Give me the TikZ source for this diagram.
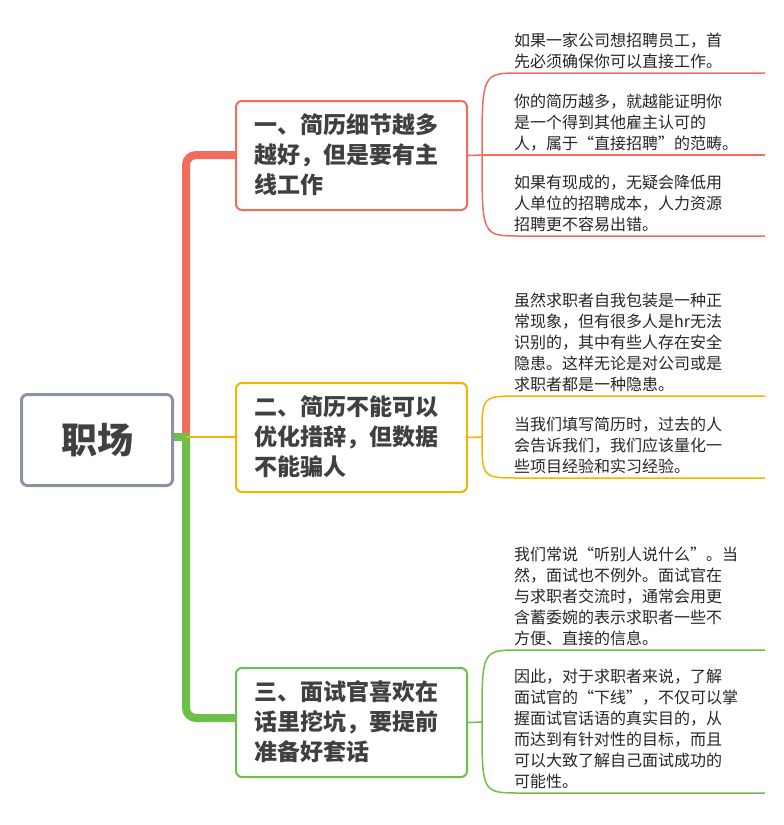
\documentclass[tikz,border=0pt]{standalone}
\usepackage{fontspec}
\setmainfont{Noto Sans CJK SC}
\begin{document}
\begin{tikzpicture}[x=1pt,y=-1pt,
  box/.style={draw=#1,line width=2pt,rounded corners=6pt,minimum width=231pt,minimum height=109pt,anchor=north west,inner sep=0},
  btxt/.style={anchor=west,align=left,font=\fontsize{23}{30}\selectfont\bfseries,text=black!75},
  leaf/.style={anchor=south west,align=left,inner sep=0,font=\fontsize{16}{21}\selectfont,text=black!85},
  ln/.style={draw=#1,line width=1.5pt}]
\definecolor{cr}{HTML}{F26B5B}\definecolor{co}{HTML}{F5B400}\definecolor{cg}{HTML}{6CC04A}\definecolor{cgr}{HTML}{8A93A3}
\useasboundingbox (0,0) rectangle (784,825);
% trunk
\draw[cr,line width=8pt,rounded corners=10pt] (235,155) -- (186,155) -- (186,437);
\draw[cg,line width=8pt,rounded corners=10pt] (186,437) -- (186,718) -- (235,718);
\draw[cg,line width=8pt] (171,437) -- (190,437);
\draw[co,line width=2pt] (186,437) -- (235,437);
\node[draw=cgr,line width=3pt,rounded corners=6pt,minimum width=151pt,minimum height=91pt,anchor=north west,font=\fontsize{36}{36}\selectfont\bfseries,text=black!75] (root) at (20,393) {职场};
\node[box=cr,fill=white] (b1) at (235,100) {};
\node[btxt] at (251,155) {一、简历细节越多\\越好，但是要有主\\线工作};
\node[box=co,fill=white] (b2) at (235,382) {};
\node[btxt] at (251,437) {二、简历不能可以\\优化措辞，但数据\\不能骗人};
\node[box=cg,fill=white] (b3) at (235,667) {};
\node[btxt] at (251,722) {三、面试官喜欢在\\话里挖坑，要提前\\准备好套话};
% leaves group 1
\draw[ln=cr] (b1.east) -- (482,155) .. controls (482,73) and (482,73) .. (520,73) -- (765,73);
\draw[ln=cr] (482,155) .. controls (482,236) and (482,236) .. (520,236) -- (765,236);
\draw[ln=cr] (482,155) -- (765,155);
\node[leaf] (l11) at (514,69) {如果一家公司想招聘员工，首\\先必须确保你可以直接工作。};
\node[leaf] (l12) at (514,151) {你的简历越多，就越能证明你\\是一个得到其他雇主认可的\\人，属于“直接招聘”的范畴。};
\node[leaf] (l13) at (514,232) {如果有现成的，无疑会降低用\\人单位的招聘成本，人力资源\\招聘更不容易出错。};
% group 2
\draw[ln=co] (b2.east) -- (482,437) .. controls (482,396) and (482,396) .. (520,396) -- (765,396);
\draw[ln=co] (482,437) .. controls (482,478) and (482,478) .. (520,478) -- (765,478);
\node[leaf] (l21) at (514,392) {虽然求职者自我包装是一种正\\常现象，但有很多人是hr无法\\识别的，其中有些人存在安全\\隐患。这样无论是对公司或是\\求职者都是一种隐患。};
\node[leaf] (l22) at (514,474) {当我们填写简历时，过去的人\\会告诉我们，我们应该量化一\\些项目经验和实习经验。};
% group 3
\draw[ln=cg] (b3.east) -- (482,722) .. controls (482,650) and (482,650) .. (520,650) -- (765,650);
\draw[ln=cg] (482,722) .. controls (482,793) and (482,793) .. (520,793) -- (765,793);
\node[leaf] (l31) at (514,646) {我们常说“听别人说什么”。当\\然，面试也不例外。面试官在\\与求职者交流时，通常会用更\\含蓄委婉的表示求职者一些不\\方便、直接的信息。};
\node[leaf] (l32) at (514,789) {因此，对于求职者来说，了解\\面试官的“下线”，不仅可以掌\\握面试官话语的真实目的，从\\而达到有针对性的目标，而且\\可以大致了解自己面试成功的\\可能性。};
\end{tikzpicture}
\end{document}
